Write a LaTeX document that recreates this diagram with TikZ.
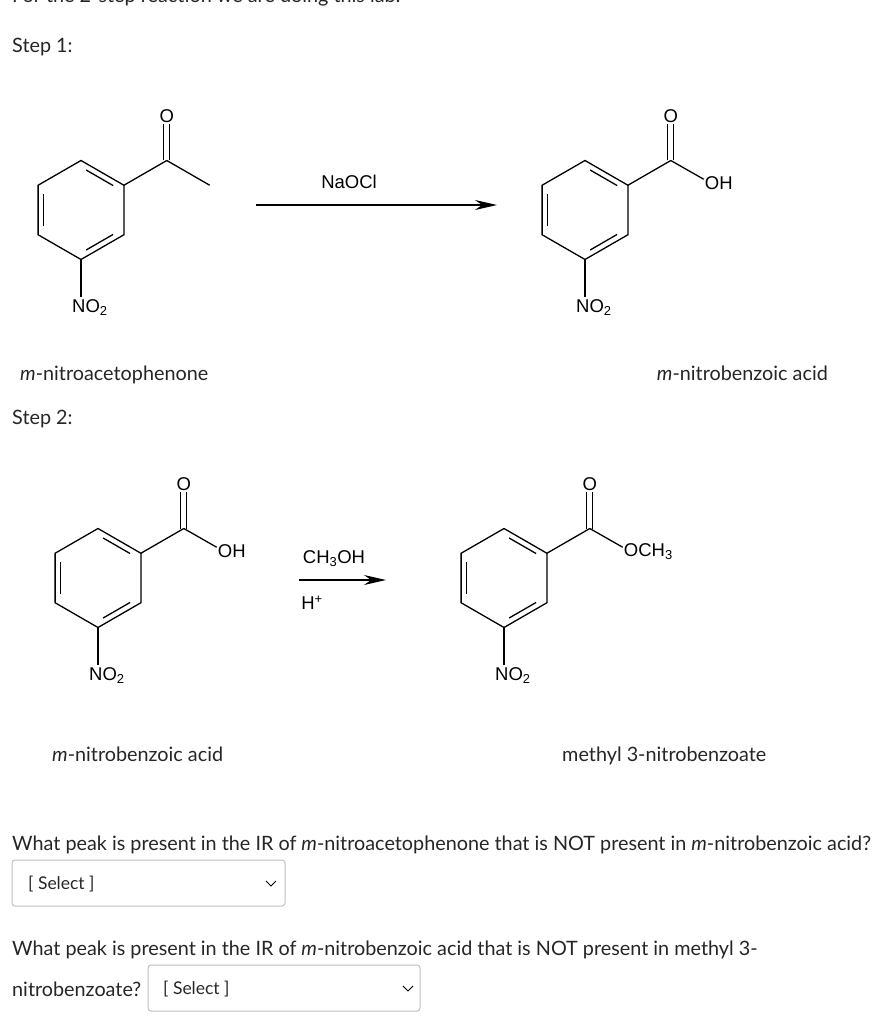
\documentclass[tikz,border=0pt]{standalone}
\usepackage{fontspec}
\setmainfont{Lato}
\newfontfamily\chemf{Liberation Sans}
\usetikzlibrary{calc,arrows.meta}
\begin{document}
\begin{tikzpicture}[x=1pt,y=-1pt,
  bond/.style={line width=1.3pt},
  txt/.style={font=\fontsize{19.8}{24}\selectfont, inner sep=0pt, anchor=base west, text=black!85},
  chem/.style={font=\chemf\fontsize{18.5}{20}\selectfont, inner sep=1pt},
  selbox/.style={draw=black!25, rounded corners=3pt, line width=1pt},
  arr/.style={line width=1.3pt, -{Stealth[length=22pt,width=10pt]}}]
\useasboundingbox (0,0) rectangle (894,1024);
\newcommand\mring[3]{%
  \coordinate (#1t) at (#2,#3-49.5);
  \coordinate (#1ur) at (#2+42.9,#3-24.75);
  \coordinate (#1lr) at (#2+42.9,#3+24.75);
  \coordinate (#1b) at (#2,#3+49.5);
  \coordinate (#1ll) at (#2-42.9,#3+24.75);
  \coordinate (#1ul) at (#2-42.9,#3-24.75);
  \coordinate (#1c) at (#2,#3);
  \draw[bond] (#1t)--(#1ur)--(#1lr)--(#1b)--(#1ll)--(#1ul)--cycle;
  \draw[bond] ($(#1t)!0.15!(#1c)!0.12!(#1ur)$) -- ($(#1ur)!0.15!(#1c)!0.12!(#1t)$);
  \draw[bond] ($(#1ul)!0.15!(#1c)!0.12!(#1ll)$) -- ($(#1ll)!0.15!(#1c)!0.12!(#1ul)$);
  \draw[bond] ($(#1lr)!0.15!(#1c)!0.12!(#1b)$) -- ($(#1b)!0.15!(#1c)!0.12!(#1lr)$);
  \coordinate (#1k) at (#2+85.8,#3-49.5);
  \coordinate (#1o) at (#2+85.8,#3-86);
  \coordinate (#1m) at (#2+128.7,#3-24.75);
  \coordinate (#1n) at (#2,#3+87);
  \draw[bond] (#1ur)--(#1k);
  \draw[bond] ($(#1k)+(-3,0)$)--($(#1o)+(-3,0)$);
  \draw[bond] ($(#1k)+(3,0)$)--($(#1o)+(3,0)$);
  \draw[bond] (#1b)--(#1n);
  \node[chem, anchor=north west, inner sep=0pt] (#1NO) at ($(#1n)+(-9,2)$) {NO\textsubscript{2}};
  \node[chem, anchor=south] (#1O) at (#1o) {O};
}
\node[txt] at (12,3) {For the 2-step reaction we are doing this lab:};
\node[txt] (s1) at (12,53) {Step 1:};
\mring{a}{81}{210}
\draw[bond] (ak)--(am);
\mring{b}{585}{210}
\draw[bond] (bk)--($(bm)+(-10,-6)$);
\node[chem, anchor=west] (bOH) at ($(bm)+(-10,-2)$) {OH};
\coordinate (a1s) at (256,205); \coordinate (a1e) at (497,205);
\draw[arr] (a1s)--(a1e);
\node[chem] (naocl) at (349,182) {NaOCl};
\node[txt] (n1) at (20,380) {\textit{m}-nitroacetophenone};
\node[txt, anchor=base east] (n2) at (828,380) {\textit{m}-nitrobenzoic acid};
\node[txt] (s2) at (12,424) {Step 2:};
\mring{c}{98}{578}
\draw[bond] (ck)--($(cm)+(-10,-6)$);
\node[chem, anchor=west] (cOH) at ($(cm)+(-10,-2)$) {OH};
\mring{d}{504}{578}
\draw[bond] (dk)--($(dm)+(-10,-6)$);
\node[chem, anchor=west] (dOCH) at ($(dm)+(-10,-2)$) {OCH\textsubscript{3}};
\coordinate (a2s) at (299,580); \coordinate (a2e) at (386,580);
\draw[arr] (a2s)--(a2e);
\node[chem] (meoh) at (334,559) {CH\textsubscript{3}OH};
\node[chem] (hp) at (312,603) {H\textsuperscript{+}};
\node[txt] (n3) at (52,761) {\textit{m}-nitrobenzoic acid};
\node[txt] (n4) at (562,761) {methyl 3-nitrobenzoate};
\node[txt] (q1) at (12,850) {What peak is present in the IR of \textit{m}-nitroacetophenone that is NOT present in \textit{m}-nitrobenzoic acid?};
\draw[selbox] (12,860) rectangle (285,906);
\node[txt, font=\fontsize{17.5}{20}\selectfont] (sel1) at (28,889) {[ Select ]};
\draw[line width=0.9pt] (266,881)--(271,886)--(276,881);
\node[txt] (q2) at (12,955) {What peak is present in the IR of \textit{m}-nitrobenzoic acid that is NOT present in methyl 3-};
\node[txt] (q2b) at (12,996) {nitrobenzoate?};
\draw[selbox] (148,965) rectangle (420,1011);
\node[txt, font=\fontsize{17.5}{20}\selectfont] (sel2) at (163,994) {[ Select ]};
\draw[line width=0.9pt] (403,986)--(408,991)--(413,986);
\end{tikzpicture}
\end{document}
